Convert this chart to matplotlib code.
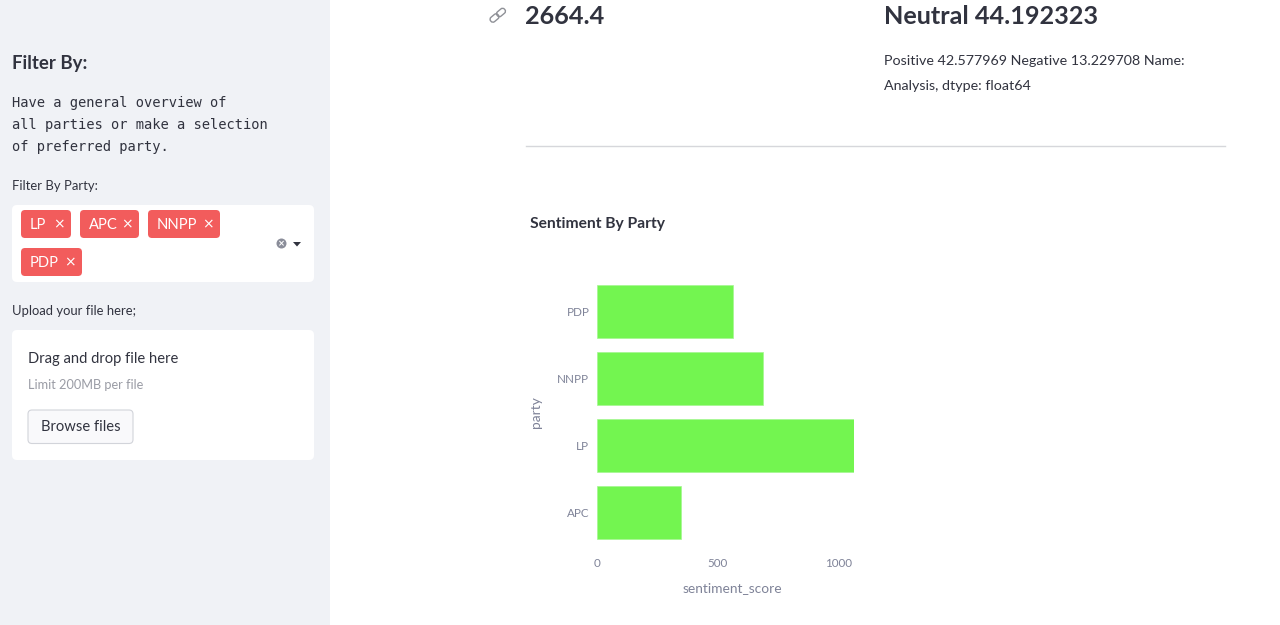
import matplotlib
matplotlib.use("Agg")
import matplotlib.pyplot as plt
from matplotlib.patches import FancyBboxPatch, Rectangle, Circle, Polygon
from matplotlib.transforms import Affine2D

parties = ["APC", "LP", "NNPP", "PDP"]
sentiment_score = [349, 1062, 686, 564]
x_ticks = [0, 500, 1000]
chips = [("LP", 21, 71, 224), ("APC", 80, 139, 224), ("NNPP", 148, 220, 224), ("PDP", 21, 82, 262)]

UI = "Lato"
DARK = "#31333f"
W, H = 1280, 625
fig = plt.figure(figsize=(12.8, 6.25), dpi=100, facecolor="white")

# Pixel-space layer for the surrounding app
ui = fig.add_axes([0, 0, 1, 1], zorder=0)
ui.set_xlim(0, W)
ui.set_ylim(H, 0)
ui.axis("off")


def box(x0, y0, x1, y1, fc, ec="none", r=4, lw=1.0):
    ui.add_patch(FancyBboxPatch((x0 + r, y0 + r), x1 - x0 - 2 * r, y1 - y0 - 2 * r,
                                boxstyle=f"round,pad={r},rounding_size={r}",
                                fc=fc, ec=ec, lw=lw))


def txt(x, y, s, px, color=DARK, weight="normal", family=UI, ha="left"):
    ui.text(x, y, s, fontsize=px * 0.72, color=color, fontweight=weight,
            family=family, ha=ha, va="center")


# Sidebar
ui.add_patch(Rectangle((0, 0), 330, H, fc="#f0f2f6", ec="none"))
txt(12, 64, "Filter By:", 18.6, weight="bold")
for y, line in zip([102.5, 125, 147], ["Have a general overview of",
                                       "all parties or make a selection",
                                       "of preferred party."]):
    txt(12, y, line, 13.8, family="DejaVu Sans Mono")
txt(12, 186, "Filter By Party:", 13)
box(12, 205, 314, 282, "white", r=5)
for name, x0, x1, yc in chips:
    box(x0, yc - 14, x1, yc + 14, "#f25c5c", r=4)
    txt(x0 + 8.5, yc + 1, name, 14.8, color="white")
    ui.text(x1 - 12.5, yc + 0.5, "×", fontsize=10, color="white", ha="center",
            va="center", family="DejaVu Sans")
ui.add_patch(Circle((281.5, 243.5), 5, fc="#8a8d99", ec="none"))
ui.text(281.5, 243.5, "×", fontsize=6, color="white", ha="center", va="center",
        family="DejaVu Sans", fontweight="bold")
ui.add_patch(Polygon([(293, 242), (301, 242), (297, 246.5)], fc=DARK, ec="none"))

txt(12, 311, "Upload your file here;", 13)
box(12, 330, 314, 460, "white", r=5)
txt(28, 359, "Drag and drop file here", 14.8)
txt(28, 385, "Limit 200MB per file", 12.7, color="#9a9ca5")
box(28, 410, 133, 443.5, "#f9f9fb", ec="#d2d4da", r=4, lw=0.8)
txt(80.5, 427, "Browse files", 14.8, ha="center")

# Header
for cx, cy in [(494.5, 18), (501, 12.5)]:
    ui.add_patch(FancyBboxPatch((cx - 3, cy - 1), 6, 2, boxstyle="round,pad=1.8,rounding_size=2.6",
                                fc="none", ec="#8f9197", lw=1.0,
                                transform=Affine2D().rotate_deg_around(cx, cy, -40) + ui.transData))
txt(525.5, 17, "2664.4", 25.2, weight="bold")
txt(883.5, 17, "Neutral 44.192323", 25.2, weight="bold")
txt(883.5, 61, "Positive 42.577969 Negative 13.229708 Name:", 14.2)
txt(883.5, 86.5, "Analysis, dtype: float64", 14.2)
ui.plot([526, 1225], [145.7, 145.7], color="#d6d7db", lw=1)
txt(530, 224, "Sentiment By Party", 15.6, weight="bold")

# Bar chart
ax = fig.add_axes([597 / W, 1 - 545.7 / H, 257 / W, 267.5 / H], zorder=1)
ax.patch.set_alpha(0)
ax.barh(parties, sentiment_score, height=0.8, color="#73f550", ec="#a5f791", lw=0.5)
ax.set_xlim(0, 1062)
ax.set_ylim(-0.5, 3.5)
ax.set_xticks(x_ticks, [str(t) for t in x_ticks])
for s in ax.spines.values():
    s.set_visible(False)
ax.tick_params(axis="both", length=0, labelsize=8.4, labelcolor="#7f8398")
ax.tick_params(axis="x", pad=9)
ax.tick_params(axis="y", pad=5.5)
for t in ax.get_xticklabels() + ax.get_yticklabels():
    t.set_family(UI)
ui.text(732.5, 588, "sentiment_score", fontsize=9.9, color="#7f8398", family=UI, ha="center", va="center")
ui.text(536, 412, "party", fontsize=9.9, color="#7f8398", family=UI, ha="center", va="center", rotation=90)

fig.savefig("out.png", dpi=100, facecolor="white")
